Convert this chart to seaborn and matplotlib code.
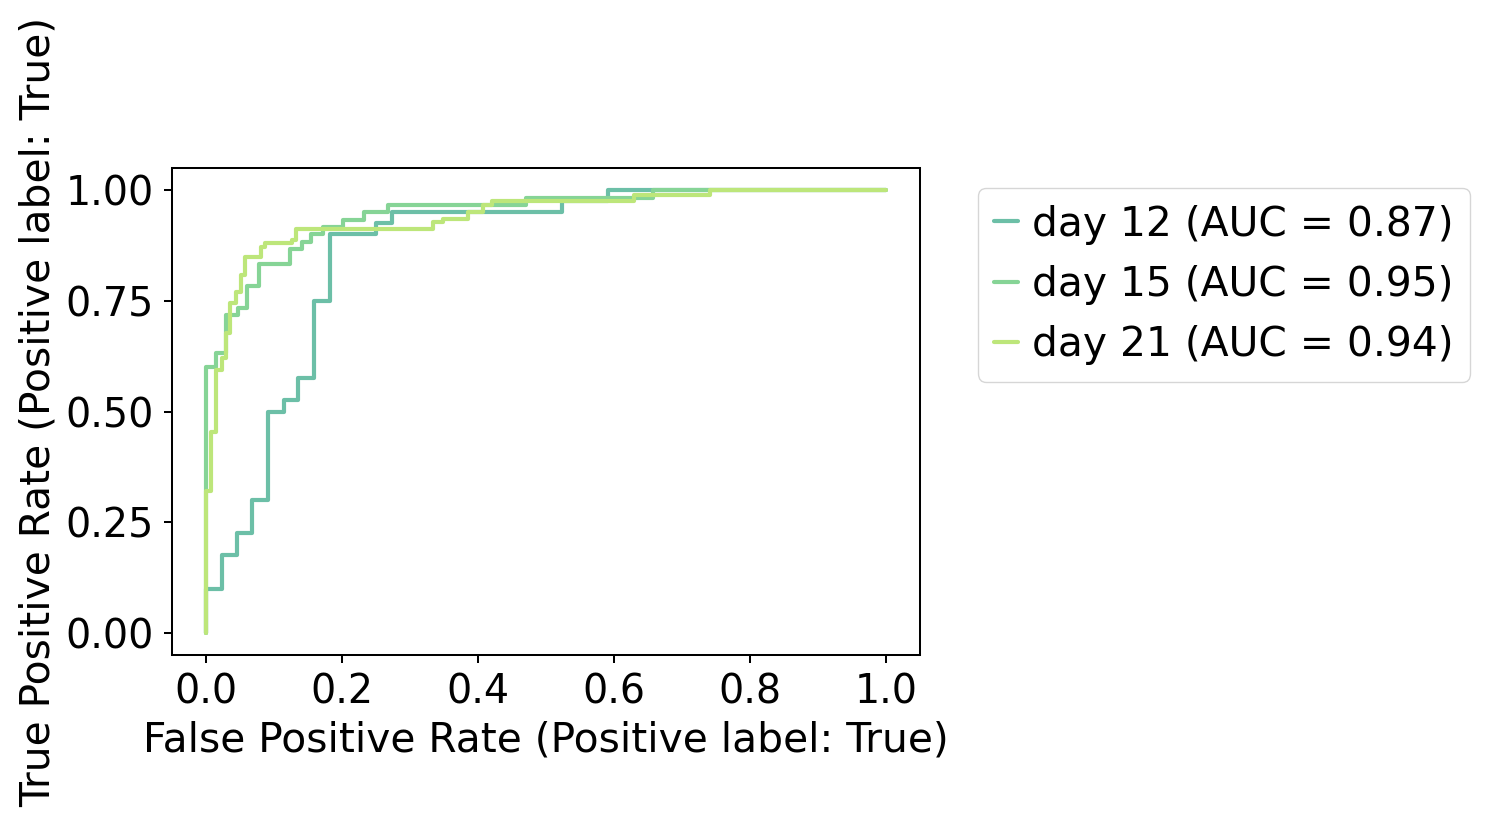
import pandas as pd
import matplotlib
matplotlib.use("Agg")
import matplotlib.pyplot as plt
import seaborn as sns

# ROC corner points (steps-post)
day12_fpr = [0.0, 0.0, 0.023, 0.045, 0.068, 0.091, 0.114, 0.136, 0.159, 0.182,
             0.25, 0.273, 0.523, 0.591, 1.0]
day12_tpr = [0.0, 0.1, 0.175, 0.225, 0.3, 0.5, 0.525, 0.575, 0.75, 0.9,
             0.925, 0.95, 0.975, 1.0, 1.0]

day15_fpr = [0.0, 0.0, 0.015, 0.03, 0.047, 0.061, 0.078, 0.124, 0.141, 0.155,
             0.172, 0.202, 0.232, 0.267, 0.47, 0.658, 1.0]
day15_tpr = [0.0, 0.6, 0.633, 0.717, 0.733, 0.783, 0.833, 0.867, 0.883, 0.9,
             0.917, 0.933, 0.95, 0.967, 0.983, 1.0, 1.0]

day21_fpr = [0.0, 0.0, 0.007, 0.015, 0.023, 0.029, 0.036, 0.044, 0.051, 0.057,
             0.081, 0.087, 0.126, 0.132, 0.334, 0.348, 0.386, 0.407, 0.42,
             0.629, 0.741, 1.0]
day21_tpr = [0.0, 0.32, 0.454, 0.594, 0.62, 0.677, 0.744, 0.77, 0.808, 0.849,
             0.872, 0.881, 0.888, 0.912, 0.929, 0.935, 0.95, 0.966, 0.976,
             0.99, 1.0, 1.0]

labels = ["day 12 (AUC = 0.87)", "day 15 (AUC = 0.95)", "day 21 (AUC = 0.94)"]
colors = ["#6cbfa7", "#86d496", "#bde67a"]

frames = []
for lab, f, t in zip(labels, [day12_fpr, day15_fpr, day21_fpr],
                     [day12_tpr, day15_tpr, day21_tpr]):
    frames.append(pd.DataFrame({"fpr": f, "tpr": t, "curve": lab}))
df = pd.concat(frames, ignore_index=True)

sns.set_style("ticks")
plt.rcParams.update({
    "font.family": ["DejaVu Sans"],
    "font.size": 29.3,
    "text.color": "black",
    "axes.labelcolor": "black",
    "axes.edgecolor": "black",
    "axes.linewidth": 1.45,
    "lines.linewidth": 3.0,
    "xtick.color": "black",
    "ytick.color": "black",
    "xtick.major.size": 5.8,
    "ytick.major.size": 5.8,
    "xtick.major.width": 1.45,
    "ytick.major.width": 1.45,
    "xtick.major.pad": 7,
    "ytick.major.pad": 7,
    "axes.labelpad": 5.5,
})

fig = plt.figure(figsize=(14.86, 8.24), dpi=100)
ax = fig.add_axes([172 / 1486, 1 - 655 / 824, 748 / 1486, 487 / 824])

sns.lineplot(data=df, x="fpr", y="tpr", hue="curve", palette=dict(zip(labels, colors)),
             estimator=None, sort=False, drawstyle="steps-post", linewidth=3.0, ax=ax)

ax.set_xlim(-0.05, 1.05)
ax.set_ylim(-0.05, 1.05)
ax.set_xticks([0.0, 0.2, 0.4, 0.6, 0.8, 1.0])
ax.set_yticks([0.0, 0.25, 0.5, 0.75, 1.0])
ax.set_xticklabels(["0.0", "0.2", "0.4", "0.6", "0.8", "1.0"], fontsize=28.5)
ax.set_yticklabels(["0.00", "0.25", "0.50", "0.75", "1.00"], fontsize=28.5)
ax.set_xlabel("False Positive Rate (Positive label: True)", fontsize=29.3)
ax.set_ylabel("True Positive Rate (Positive label: True)", fontsize=29.3)

ax.get_legend().remove()
handles, leg_labels = ax.get_legend_handles_labels()
for h in handles:
    h.set_linewidth(3.0)
ax.legend(handles, leg_labels, loc="upper left", bbox_to_anchor=(1.05, 1.0),
          fontsize=29.3, handlelength=0.59, handletextpad=0.34, frameon=True)

fig.savefig("out.png", dpi=100)
